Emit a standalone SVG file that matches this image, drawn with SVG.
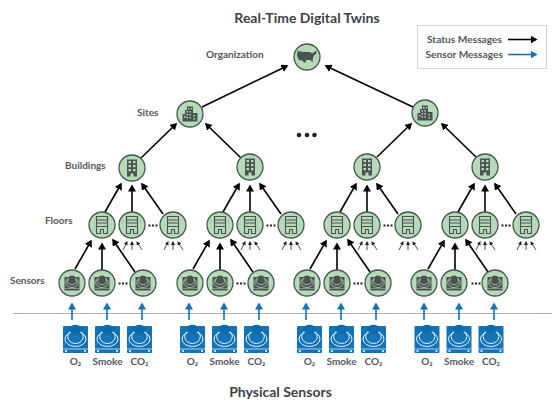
<svg xmlns="http://www.w3.org/2000/svg" width="560" height="414" viewBox="0 0 560 414">
<style>
text{font-family:Lato,"Open Sans","Liberation Sans",sans-serif;fill:#54575a;font-weight:700;font-size:10px}
.t{font-size:14px;fill:#3f4244;text-anchor:middle}
.l{font-size:10.200px}
.s{text-anchor:middle}
.c{fill:#b7d9b9;stroke:#3f5a48;stroke-width:1.300}
.k{stroke:#000;stroke-width:1.600;fill:none;marker-end:url(#ak)}
.m{stroke:#222;stroke-width:.8;fill:none;marker-end:url(#am)}
.b{stroke:#1273ba;stroke-width:1.600;fill:none;marker-end:url(#ab)}
.d{fill:#4b5350}
.o{fill:none;stroke:#4b5350;stroke-width:1.100}
</style>
<defs>
<marker id="ak" markerUnits="userSpaceOnUse" markerWidth="9" markerHeight="9" refX="5.500" refY="4" orient="auto"><path d="M0 0L7 4L0 8Z" fill="#000"/></marker>
<marker id="am" markerUnits="userSpaceOnUse" markerWidth="6" markerHeight="6" refX="3" refY="2" orient="auto"><path d="M0 0L4 2L0 4Z" fill="#222"/></marker>
<marker id="ab" markerUnits="userSpaceOnUse" markerWidth="9" markerHeight="9" refX="5.500" refY="4" orient="auto"><path d="M0 0L7 4L0 8Z" fill="#1273ba"/></marker>
<g id="site"><circle class="c" r="13"/><path class="d" d="M-7.500 0H-5V-4H-3V-7.500H3V-1H7.500V7.500H-7.500Z"/><path d="M-2 -6h1.500v1.500h-1.500zM.8 -6h1.500v1.500h-1.500zM-3.500 -3h1.500v1.500h-1.500zM-.7 -3h1.500v1.500h-1.500zM-3.500 0h1.500v1.500h-1.500zM-.7 0h1.500v1.500h-1.500zM-6 2h1.500v1.500h-1.500zM-3.500 3h1.500v1.500h-1.500zM-.7 3h1.500v1.500h-1.500zM3.500 1h1.500v1.500h-1.500zM3.500 4h1.500v1.500h-1.500z" fill="#b7d9b9"/></g>
<g id="bldg"><circle class="c" r="13"/><path class="d" d="M-5 -8.500H5V8.500H1.500V5.500H-1.500V8.500H-5Z"/><path d="M-3.500 -7h2.500v2.300h-2.500zM1 -7h2.500v2.300h-2.500zM-3.500 -3h2.500v2.300h-2.500zM1 -3h2.500v2.300h-2.500zM-3.500 1h2.500v2.300h-2.500zM1 1h2.500v2.300h-2.500z" fill="#b7d9b9"/></g>
<g id="floor"><circle class="c" r="13"/><path class="o" d="M-5.500 -8.500H5.500V8.500H1.500V4.500H-1.500V8.500H-5.500ZM-5.500 -5H5.500M-5.500 -2H5.500M-5.500 1.500H5.500"/></g>
<g id="sens"><circle class="c" r="13"/><rect x="-7.500" y="-6" width="15" height="13.500" rx=".5" class="d"/><ellipse cx="0" cy="-.5" rx="6.300" ry="5" fill="none" stroke="#b7d9b9" stroke-width=".8"/><ellipse cx="0" cy="-2" rx="4.500" ry="3.500" fill="none" stroke="#b7d9b9" stroke-width=".7"/><ellipse cx="0" cy="-5" rx="3.300" ry="2.600" class="d"/><path d="M-7.500 5.500H7.500" stroke="#b7d9b9" stroke-width=".5"/></g>
<g id="phys"><rect x="-12.500" y="-13.500" width="25" height="27" rx="1" fill="#1273ba"/><path d="M-12.500 9.500H12.500" stroke="#cfe3f2" stroke-width=".8"/><rect x="-10.500" y="10.800" width="2" height="1.500" fill="#fff"/><rect x="8.500" y="10.800" width="2" height="1.500" fill="#fff"/><ellipse cx="0" cy="-.5" rx="10.500" ry="7.500" fill="none" stroke="#fff" stroke-width=".9"/><ellipse cx="0" cy="-3" rx="7.800" ry="7" fill="none" stroke="#fff" stroke-width=".9"/><ellipse cx="0" cy="-10" rx="6" ry="4.800" fill="#0f6ab0"/></g>
<g id="dots"><rect x="0" y="0" width="2" height="2"/><rect x="3.500" y="0" width="2" height="2"/><rect x="7" y="0" width="2" height="2"/></g>
</defs>
<rect width="560" height="414" fill="#fff"/>
<g id="title"><text class="t" x="307" y="23">Real-Time Digital Twins</text><text class="t" x="280.500" y="397">Physical Sensors</text></g>
<g id="levels"><text x="206" y="58">Organization</text><text x="137" y="116">Sites</text><text x="65" y="169">Buildings</text><text x="45" y="224">Floors</text><text x="10" y="284">Sensors</text></g>
<g id="legend"><rect x="417.500" y="25.500" width="129" height="43" fill="#fff" stroke="#d4d6d6" stroke-width="1"/><text class="l" x="427" y="43">Status Messages</text><text class="l" x="425.500" y="57.500">Sensor Messages</text><path class="k" d="M508 39.500H536"/><path class="b" d="M508 54.500H536"/></g>
<line id="divider" x1="13" y1="313.500" x2="552" y2="313.500" stroke="#a9b3b8" stroke-width="1"/>
<g id="connectors">
<path class="k" d="M202 107L287 66"/><path class="k" d="M413 107L326 66"/>
<path class="k" d="M141 158L176 124"/><path class="k" d="M241 158L206 124"/><path class="k" d="M377 157L411 124"/><path class="k" d="M476 157L442 124"/>
<path class="k" d="M105 212L121 184"/><path class="k" d="M132 212V186"/><path class="k" d="M163 214L142 184"/>
<path class="k" d="M223 212L239 184"/><path class="k" d="M250 212V186"/><path class="k" d="M281 214L260 184"/>
<path class="k" d="M340 212L356 184"/><path class="k" d="M367 212V186"/><path class="k" d="M398 214L377 184"/>
<path class="k" d="M458 212L474 184"/><path class="k" d="M485 212V186"/><path class="k" d="M516 214L495 184"/>
<path class="k" d="M75 269L91 241"/><path class="k" d="M102 270V244"/><path class="k" d="M135 272L113 240"/>
<path class="k" d="M193 269L209 241"/><path class="k" d="M220 270V244"/><path class="k" d="M253 272L231 240"/>
<path class="k" d="M310 269L326 241"/><path class="k" d="M337 270V244"/><path class="k" d="M370 272L348 240"/>
<path class="k" d="M428 269L444 241"/><path class="k" d="M455 270V244"/><path class="k" d="M488 272L466 240"/>
<path class="m" d="M123 250L127 242"/><path class="m" d="M132 250V242"/><path class="m" d="M142 250L137 242"/><path class="m" d="M164 250L168 242"/><path class="m" d="M173 250V242"/><path class="m" d="M183 250L178 242"/>
<path class="m" d="M241 250L245 242"/><path class="m" d="M250 250V242"/><path class="m" d="M260 250L255 242"/><path class="m" d="M282 250L286 242"/><path class="m" d="M291 250V242"/><path class="m" d="M301 250L296 242"/>
<path class="m" d="M358 250L362 242"/><path class="m" d="M367 250V242"/><path class="m" d="M377 250L372 242"/><path class="m" d="M399 250L403 242"/><path class="m" d="M408 250V242"/><path class="m" d="M418 250L413 242"/>
<path class="m" d="M476 250L480 242"/><path class="m" d="M485 250V242"/><path class="m" d="M495 250L490 242"/><path class="m" d="M517 250L521 242"/><path class="m" d="M526 250V242"/><path class="m" d="M536 250L531 242"/>
<path class="b" d="M72 320V304"/><path class="b" d="M107 320V304"/><path class="b" d="M142 320V304"/><path class="b" d="M189 320V304"/><path class="b" d="M224 320V304"/><path class="b" d="M259 320V304"/><path class="b" d="M306 320V304"/><path class="b" d="M341 320V304"/><path class="b" d="M376 320V304"/><path class="b" d="M424 320V304"/><path class="b" d="M459 320V304"/><path class="b" d="M494 320V304"/>
</g>
<g id="ellipses" fill="#222"><circle cx="299" cy="135" r="2.300"/><circle cx="307" cy="135" r="2.300"/><circle cx="314.500" cy="135" r="2.300"/>
<use href="#dots" x="148.500" y="224.500"/><use href="#dots" x="266.500" y="224.500"/><use href="#dots" x="383.500" y="224.500"/><use href="#dots" x="501.500" y="224.500"/>
<use href="#dots" x="118.500" y="282.500"/><use href="#dots" x="236.500" y="282.500"/><use href="#dots" x="353.500" y="282.500"/><use href="#dots" x="471.500" y="282.500"/></g>
<g id="org" transform="translate(307 57)"><circle class="c" r="13"/><path class="d" d="M-9.500 -6L-3 -5L3 -5L5 -3.500L9.500 -6.500L9.500 -3.500L7 -1.500L6 1L5.500 5.500L3.500 3L-.5 3L-2 6L-5 3.500L-8 3L-10 -1Z"/></g>
<use id="site1" href="#site" x="190" y="114"/><use id="site2" href="#site" x="425" y="113"/>
<use id="bldg1" href="#bldg" x="132" y="168"/><use id="bldg2" href="#bldg" x="250" y="167"/><use id="bldg3" href="#bldg" x="367" y="167"/><use id="bldg4" href="#bldg" x="485" y="167"/>
<use id="f1" href="#floor" x="102" y="225"/><use id="f2" href="#floor" x="132" y="225"/><use id="f3" href="#floor" x="173" y="225"/>
<use id="f4" href="#floor" x="220" y="225"/><use id="f5" href="#floor" x="250" y="225"/><use id="f6" href="#floor" x="291" y="225"/>
<use id="f7" href="#floor" x="337" y="225"/><use id="f8" href="#floor" x="367" y="225"/><use id="f9" href="#floor" x="408" y="225"/>
<use id="f10" href="#floor" x="455" y="225"/><use id="f11" href="#floor" x="485" y="225"/><use id="f12" href="#floor" x="526" y="225"/>
<use id="s1" href="#sens" x="72" y="283"/><use id="s2" href="#sens" x="102" y="283"/><use id="s3" href="#sens" x="143" y="283"/>
<use id="s4" href="#sens" x="190" y="283"/><use id="s5" href="#sens" x="220" y="283"/><use id="s6" href="#sens" x="261" y="283"/>
<use id="s7" href="#sens" x="307" y="283"/><use id="s8" href="#sens" x="337" y="283"/><use id="s9" href="#sens" x="378" y="283"/>
<use id="s10" href="#sens" x="424" y="283"/><use id="s11" href="#sens" x="454" y="283"/><use id="s12" href="#sens" x="495" y="283"/>
<g id="p1"><use href="#phys" x="75.500" y="339.500"/><text class="s" x="75.500" y="365">O₂</text></g>
<g id="p2"><use href="#phys" x="107.500" y="339.500"/><text class="s" x="107.500" y="365">Smoke</text></g>
<g id="p3"><use href="#phys" x="139.500" y="339.500"/><text class="s" x="139.500" y="365">CO₂</text></g>
<g id="p4"><use href="#phys" x="192.500" y="339.500"/><text class="s" x="192.500" y="365">O₂</text></g>
<g id="p5"><use href="#phys" x="224.500" y="339.500"/><text class="s" x="224.500" y="365">Smoke</text></g>
<g id="p6"><use href="#phys" x="256.500" y="339.500"/><text class="s" x="256.500" y="365">CO₂</text></g>
<g id="p7"><use href="#phys" x="309.500" y="339.500"/><text class="s" x="309.500" y="365">O₂</text></g>
<g id="p8"><use href="#phys" x="341.500" y="339.500"/><text class="s" x="341.500" y="365">Smoke</text></g>
<g id="p9"><use href="#phys" x="373.500" y="339.500"/><text class="s" x="373.500" y="365">CO₂</text></g>
<g id="p10"><use href="#phys" x="427" y="339.500"/><text class="s" x="427" y="365">O₂</text></g>
<g id="p11"><use href="#phys" x="459" y="339.500"/><text class="s" x="459" y="365">Smoke</text></g>
<g id="p12"><use href="#phys" x="491" y="339.500"/><text class="s" x="491" y="365">CO₂</text></g>
</svg>
